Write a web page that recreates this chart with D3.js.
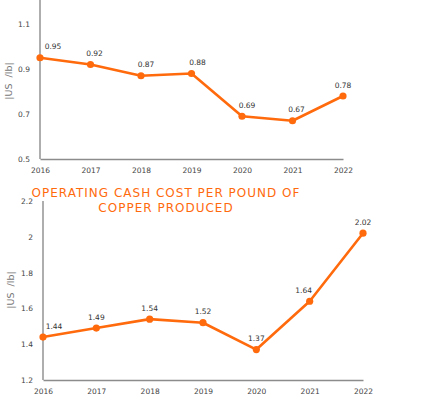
<!DOCTYPE html>
<html>
<head>
<meta charset="utf-8">
<script src="https://cdn.jsdelivr.net/npm/d3@7"></script>
<style>
  body { margin: 0; background: #fff; }
  svg { display: block; font-family: "DejaVu Sans", sans-serif; }
</style>
</head>
<body>
<svg id="chart" width="423" height="404"></svg>
<script>
const years = ["2016","2017","2018","2019","2020","2021","2022"]
const copperCost = [0.95, 0.92, 0.87, 0.88, 0.69, 0.67, 0.78]
const cashCost = [1.44, 1.49, 1.54, 1.52, 1.37, 1.64, 2.02]
const topTicks = [0.5, 0.7, 0.9, 1.1]
const bottomTicks = [1.2, 1.4, 1.6, 1.8, 2, 2.2]
const titleLines = ["OPERATING CASH COST PER POUND OF", "COPPER PRODUCED"]
const yTitle = "|US  /lb|"

const ORANGE = "#ff6a0d"
const svg = d3.select("#chart")

// nudges for the data labels, like the source chart
const topLabelDx = [13, 4, 5, 6, 5, 4, 0]
const bottomLabelDx = [11, 0, 0, 0, 0, -6, 0]

function drawPanel(cfg) {
  const x = d3.scalePoint().domain(years).range([cfg.x0, cfg.x1])
  const y = d3.scaleLinear().domain(cfg.domain).range(cfg.yRange)
  const g = svg.append("g")

  // y axis
  const ya = g.append("g")
    .attr("transform", `translate(${cfg.x0},0)`)
    .call(d3.axisLeft(y).tickValues(cfg.ticks).tickSize(0).tickPadding(10)
      .tickFormat(d3.format("~g")))
  ya.select(".domain").attr("stroke", "#8c8c8c").attr("stroke-width", 1.4)
    .attr("d", `M0,${y(cfg.domain[0])}V${cfg.axisTop}`)
  ya.selectAll("text").attr("font-size", 7.5).attr("fill", "#444")
    .attr("font-family", "DejaVu Sans")

  // x axis
  const xa = g.append("g")
    .attr("transform", `translate(0,${y(cfg.domain[0])})`)
    .call(d3.axisBottom(x).tickSize(0).tickPadding(9))
  xa.select(".domain").attr("stroke", "#8c8c8c").attr("stroke-width", 1.4)
  xa.selectAll("text").attr("font-size", 7.5).attr("fill", "#444")
    .attr("font-family", "DejaVu Sans")

  // y title
  g.append("text")
    .attr("transform", `translate(${cfg.titleX},${cfg.titleY}) rotate(-90)`)
    .attr("text-anchor", "middle")
    .style("white-space", "pre")
    .attr("font-size", 9.5).attr("fill", "#777")
    .text(yTitle)

  const line = d3.line().x((d, i) => x(years[i])).y(d => y(d))
  g.append("path").datum(cfg.values)
    .attr("d", line).attr("fill", "none")
    .attr("stroke", ORANGE).attr("stroke-width", 2.6)
    .attr("stroke-linejoin", "round")

  g.selectAll(".pt").data(cfg.values).join("circle")
    .attr("cx", (d, i) => x(years[i])).attr("cy", d => y(d))
    .attr("r", 3.6).attr("fill", ORANGE)

  g.selectAll(".lbl").data(cfg.values).join("text")
    .attr("x", (d, i) => x(years[i]) + cfg.labelDx[i])
    .attr("y", d => y(d) - 8.5)
    .attr("text-anchor", "middle")
    .attr("font-size", 7.5).attr("fill", "#333")
    .text(d => d3.format(".2f")(d))
}

drawPanel({
  values: copperCost, domain: [0.5, 1.3], yRange: [159, -21], ticks: topTicks,
  x0: 40, x1: 343, axisTop: 0, titleX: 12, titleY: 81, labelDx: topLabelDx
})

drawPanel({
  values: cashCost, domain: [1.2, 2.2], yRange: [380, 201], ticks: bottomTicks,
  x0: 43, x1: 363, axisTop: 201, titleX: 14, titleY: 290, labelDx: bottomLabelDx
})

svg.append("g").selectAll("text").data(titleLines).join("text")
  .attr("x", 166).attr("y", (d, i) => 197 + i * 15)
  .attr("text-anchor", "middle")
  .attr("font-size", 12).attr("letter-spacing", 1)
  .attr("fill", ORANGE)
  .text(d => d)
</script>
</body>
</html>
